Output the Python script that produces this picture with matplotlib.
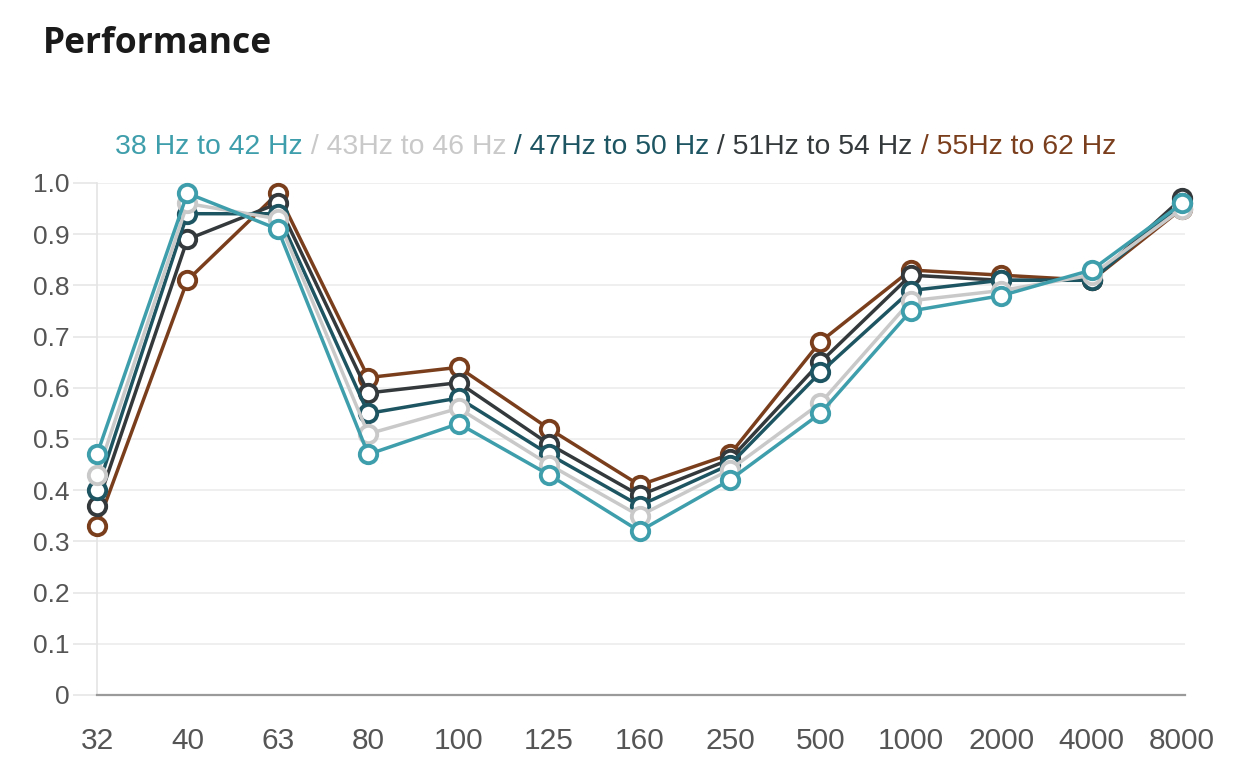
import matplotlib
matplotlib.use("Agg")
import matplotlib.pyplot as plt
from matplotlib import font_manager

categories = ["32", "40", "63", "80", "100", "125", "160", "250", "500", "1000", "2000", "4000", "8000"]
series_names = ["38 Hz to 42 Hz", "43Hz to 46 Hz", "47Hz to 50 Hz", "51Hz to 54 Hz", "55Hz to 62 Hz"]
s_38_42 = [0.47, 0.98, 0.91, 0.47, 0.53, 0.43, 0.32, 0.42, 0.55, 0.75, 0.78, 0.83, 0.96]
s_43_46 = [0.43, 0.96, 0.93, 0.51, 0.56, 0.45, 0.35, 0.44, 0.57, 0.77, 0.79, 0.82, 0.95]
s_47_50 = [0.40, 0.94, 0.94, 0.55, 0.58, 0.47, 0.37, 0.45, 0.63, 0.79, 0.81, 0.81, 0.96]
s_51_54 = [0.37, 0.89, 0.96, 0.59, 0.61, 0.49, 0.39, 0.46, 0.65, 0.82, 0.81, 0.81, 0.97]
s_55_62 = [0.33, 0.81, 0.98, 0.62, 0.64, 0.52, 0.41, 0.47, 0.69, 0.83, 0.82, 0.81, 0.95]
y_ticks = [0, 0.1, 0.2, 0.3, 0.4, 0.5, 0.6, 0.7, 0.8, 0.9, 1.0]
y_tick_labels = ["0", "0.1", "0.2", "0.3", "0.4", "0.5", "0.6", "0.7", "0.8", "0.9", "1.0"]

colors = ["#3f9eab", "#c9c9c9", "#1e5562", "#34393b", "#7a3e1d"]
series = [s_38_42, s_43_46, s_47_50, s_51_54, s_55_62]

W, H = 1252, 776
fig = plt.figure(figsize=(W / 100, H / 100), dpi=100)
fig.patch.set_facecolor("white")

ax_left, ax_right, ax_bottom, ax_top = 97, 1185, 695, 183
ax = fig.add_axes([ax_left / W, 1 - ax_bottom / H, (ax_right - ax_left) / W, (ax_bottom - ax_top) / H])

x = list(range(len(categories)))
# draw back to front: brown first, teal last
for i in reversed(range(len(series))):
    ax.plot(x, series[i], color=colors[i], lw=2.5, marker="o", markersize=12.5,
            markerfacecolor="white", markeredgecolor=colors[i], markeredgewidth=2.8,
            clip_on=False, zorder=3 + (4 - i))

ax.set_xlim(0, 12 * (ax_right - ax_left) / (1182 - ax_left))
ax.set_ylim(0, 1.0)
ax.set_xticks(x)
ax.set_xticklabels(categories)
ax.set_yticks(y_ticks)
ax.set_yticklabels(y_tick_labels)

ax.grid(axis="y", color="#ececec", lw=1.2, zorder=0)
ax.set_axisbelow(True)
for s in ["top", "right"]:
    ax.spines[s].set_visible(False)
ax.spines["left"].set_color("#e4e4e4")
ax.spines["left"].set_linewidth(1.2)
ax.spines["bottom"].set_color("#9a9a9a")
ax.spines["bottom"].set_linewidth(1.6)

ax.tick_params(axis="y", length=17.5, width=1.2, color="#e6e6e6", pad=2.0,
               labelsize=19, labelcolor="#555555")
ax.tick_params(axis="x", length=0, pad=23, labelsize=21.5, labelcolor="#555555")
for lab in ax.get_xticklabels() + ax.get_yticklabels():
    lab.set_fontfamily(["Liberation Sans", "DejaVu Sans"])

# Title
fig.text(43 / W, 1 - 53 / H, "Performance", fontsize=25.5, fontweight="bold",
         family=["Open Sans", "DejaVu Sans"], color="#1a1a1a", va="baseline", ha="left")

# Multicolour legend line
names = {f.name for f in font_manager.fontManager.ttflist}
leg_family = ["Liberation Sans Narrow"] if "Liberation Sans Narrow" in names else ["Liberation Sans"]
pieces = []
for i, nm in enumerate(series_names):
    txt = nm if i == 0 else " / " + nm
    pieces.append((txt, colors[i]))

fig.canvas.draw()
renderer = fig.canvas.get_renderer()
leg_fs = 17
target_left, target_right, base_y = 115, 1120, 154

def layout(fs):
    objs = []
    for txt, c in pieces:
        t = fig.text(0, 0, txt, fontsize=fs, family=leg_family, color=c, va="baseline", ha="left")
        objs.append(t)
    widths = [o.get_window_extent(renderer).width for o in objs]
    return objs, widths

objs, widths = layout(leg_fs)
total = sum(widths)
scale = (target_right - target_left) / total
for o in objs:
    o.remove()
leg_fs = leg_fs * scale
objs, widths = layout(leg_fs)
xpos = target_left
for o, w in zip(objs, widths):
    o.set_position((xpos / W, 1 - base_y / H))
    xpos += w

fig.savefig("out.png", dpi=100, facecolor="white")
